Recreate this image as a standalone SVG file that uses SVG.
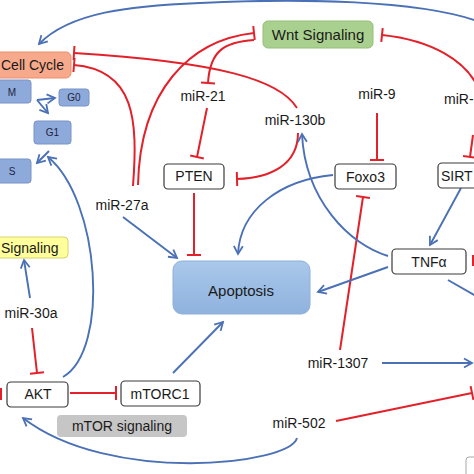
<svg xmlns="http://www.w3.org/2000/svg" width="474" height="474" viewBox="0 0 474 474">
<style>
text{font-family:"Liberation Sans",Arial,sans-serif;fill:#1a1a1a;font-size:14px;text-anchor:middle}
.n{fill:#fff;stroke:#3a3a3a;stroke-width:1.2}
.g{fill:#8eaadb;stroke:#7893c8;stroke-width:1}
.gt{font-size:10px;fill:#1e2340}
.r{fill:none;stroke:#e2212b;stroke-width:2;marker-end:url(#bar)}
.rb{fill:none;stroke:#e2212b;stroke-width:2}
.b{fill:none;stroke:#4a70b5;stroke-width:1.9;marker-end:url(#arr)}
.bl{fill:none;stroke:#4a70b5;stroke-width:1.9}
</style>
<defs>
<marker id="bar" markerWidth="4" markerHeight="14" refX="2" refY="7" orient="auto" markerUnits="userSpaceOnUse"><path d="M2,0 L2,14" stroke="#e2212b" stroke-width="2"/></marker>
<marker id="arr" markerWidth="12" markerHeight="12" refX="10" refY="6" orient="auto" markerUnits="userSpaceOnUse"><path d="M2,1.5 L10,6 L2,10.5" fill="none" stroke="#4a70b5" stroke-width="1.8"/></marker>
<linearGradient id="ap" x1="0" y1="0" x2="0" y2="1"><stop offset="0" stop-color="#a9c8ea"/><stop offset="1" stop-color="#8fb2de"/></linearGradient>
</defs>
<g id="connectors">
<path class="b" d="M480 22 C420 0,300 -2,200 3 C130 6,70 12,39 44"/>
<path class="r" d="M297 108 C280 80,220 62,74 53"/>
<path class="r" d="M133 186 C138 120,135 70,74 65"/>
<path class="r" d="M138 185 C140 90,190 40,254 33"/>
<path class="r" d="M254 40 C225 42,210 50,208 83"/>
<path class="r" d="M480 92 C468 60,430 40,382 35"/>
<path class="r" d="M207 108 L197 157"/>
<path class="r" d="M298 133 C298 165,270 178,237 179"/>
<path class="r" d="M377 113 L377 160"/>
<path class="r" d="M473 135 L470 157"/>
<path class="r" d="M194 193 L194 255"/>
<path class="r" d="M340 350 L363 197"/>
<path class="r" d="M32 328 L37 373"/>
<path class="r" d="M70 393 L116 393"/>
<path class="r" d="M336 421 L472 393"/>
<path class="rb" d="M473 255 L473 266"/>
<path class="rb" d="M1 388 L1 400"/>
<path class="b" d="M37 100 L55 98"/>
<path class="b" d="M37 100 L48 113"/>
<path class="b" d="M49 151 L37 163"/>
<path class="b" d="M63 377 C110 350,100 200,48 157"/>
<path class="b" d="M388 256 C350 245,305 200,302 134"/>
<path class="b" d="M333 175 C280 180,240 210,238 254"/>
<path class="b" d="M123 217 L177 258"/>
<path class="b" d="M173 373 L223 322"/>
<path class="b" d="M461 188 L430 245"/>
<path class="b" d="M388 267 L318 292"/>
<path class="bl" d="M448 280 L476 296"/>
<path class="b" d="M382 363 L472 363"/>
<path class="b" d="M297 438 C290 465,110 485,23 418"/>
<path class="b" d="M30 298 L24 260"/>
</g>
<g id="cellcycle"><rect x="-10" y="52" width="81" height="26" rx="5" fill="#f7a98b" stroke="#ef8d6d"/><text x="1" y="70" style="text-anchor:start">Cell Cycle</text></g>
<g id="M"><rect class="g" x="-6" y="80" width="37" height="23" rx="3"/><text class="gt" x="12" y="96">M</text></g>
<g id="G0"><rect class="g" x="59" y="89" width="30" height="17" rx="3"/><text class="gt" x="74" y="101">G0</text></g>
<g id="G1"><rect class="g" x="34" y="121" width="37" height="23" rx="3"/><text class="gt" x="52.5" y="136">G1</text></g>
<g id="S"><rect class="g" x="-6" y="159" width="37" height="24" rx="3"/><text class="gt" x="12" y="175">S</text></g>
<g id="wnt"><rect x="263" y="21" width="110" height="27" rx="5" fill="#a9d08e" stroke="#93bf78"/><text x="318" y="40" style="font-size:15px">Wnt Signaling</text></g>
<g id="mir21"><text x="203" y="101">miR-21</text></g>
<g id="mir130b"><text x="295" y="125">miR-130b</text></g>
<g id="mir9"><text x="377" y="99">miR-9</text></g>
<g id="mirR"><text x="444" y="104" style="text-anchor:start">miR-</text></g>
<g id="pten"><rect class="n" x="164" y="164" width="60" height="25" rx="4"/><text x="194" y="181">PTEN</text></g>
<g id="foxo3"><rect class="n" x="335" y="164" width="61" height="25" rx="4"/><text x="365.5" y="182">Foxo3</text></g>
<g id="sirt"><rect class="n" x="438" y="163" width="50" height="25" rx="4"/><text x="441" y="181" style="text-anchor:start">SIRT</text></g>
<g id="mir27a"><text x="122" y="210">miR-27a</text></g>
<g id="signaling"><rect x="-10" y="237" width="78" height="21" rx="4" fill="#ffff9c" stroke="#d6d46e"/><text x="1" y="253" style="text-anchor:start">Signaling</text></g>
<g id="apoptosis"><rect x="173" y="261" width="137" height="53" rx="9" fill="url(#ap)" stroke="#8eb0da"/><text x="241" y="296" style="font-size:15px">Apoptosis</text></g>
<g id="tnfa"><rect class="n" x="392" y="249" width="74" height="25" rx="4"/><text x="429" y="267">TNFα</text></g>
<g id="mir30a"><text x="31" y="318">miR-30a</text></g>
<g id="mir1307"><text x="338" y="368">miR-1307</text></g>
<g id="akt"><rect class="n" x="7" y="382" width="61" height="25" rx="4"/><text x="38" y="399">AKT</text></g>
<g id="mtorc1"><rect class="n" x="121" y="381" width="79" height="25" rx="4"/><text x="160" y="399">mTORC1</text></g>
<g id="mtorsig"><rect x="57" y="415" width="130" height="22" rx="4" fill="#c6c6c6"/><text x="122" y="431">mTOR signaling</text></g>
<g id="mir502"><text x="299" y="428">miR-502</text></g>
<g id="corner"><rect x="466" y="457" width="20" height="25" rx="3" fill="#fff" stroke="#a8a8a8"/></g>
</svg>
